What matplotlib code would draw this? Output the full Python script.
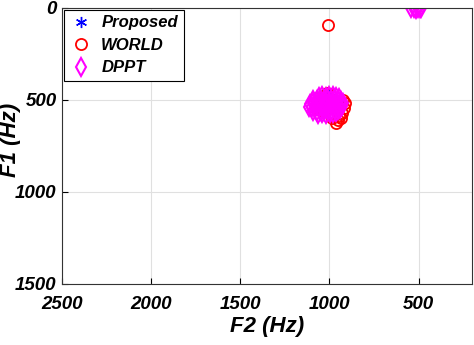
import matplotlib.pyplot as plt

# formant estimates (F2, F1) in Hz
prop_f2 = [1040, 1020, 1005, 990, 1060, 1080, 1000, 970, 950, 1030, 1010, 985, 960, 940, 1050]
prop_f1 = [472, 476, 470, 480, 490, 505, 500, 495, 510, 520, 530, 540, 525, 515, 550]

world_f2 = [1006, 1012, 998, 962, 975, 948, 932, 918, 915, 924, 985, 1030, 1052, 952, 936, 1075]
world_f1 = [92, 462, 470, 625, 590, 585, 572, 545, 518, 498, 600, 562, 552, 608, 598, 540]

dppt_f2 = [1060, 1042, 1022, 1003, 982, 962, 948,
           1090, 1072, 1051, 1030, 1012, 991, 972, 951, 936,
           1110, 1094, 1076, 1056, 1034, 1016, 996, 974, 956, 937, 926,
           1116, 1100, 1081, 1061, 1040, 1021, 1001, 979, 961, 942, 931,
           1091, 1071, 1049, 1031, 1009, 990, 968, 952, 941,
           1062, 1041, 1019, 999, 981, 962,
           540, 526, 514, 505, 494, 486]
dppt_f1 = [482, 478, 485, 480, 476, 484, 490,
           500, 503, 498, 502, 497, 501, 499, 503, 505,
           520, 518, 522, 519, 521, 517, 523, 520, 518, 522, 515,
           540, 538, 542, 539, 541, 537, 543, 540, 538, 536, 533,
           560, 558, 562, 559, 561, 557, 556, 552, 550,
           575, 573, 578, 572, 570, 568,
           2, 0, 4, 1, 3, 0]

plt.rcParams['font.family'] = ['Liberation Sans', 'DejaVu Sans']
plt.rcParams['font.weight'] = 'bold'
plt.rcParams['font.style'] = 'italic'
plt.rcParams['axes.labelweight'] = 'bold'

fig = plt.figure(figsize=(4.74, 3.45), dpi=100)
ax = fig.add_axes([0.131, 0.177, 0.865, 0.80])

ax.plot(prop_f2, prop_f1, linestyle='none', marker=(6, 2, 0), color='b',
        markersize=8, label='Proposed')
ax.plot(world_f2, world_f1, linestyle='none', marker='o', color='r',
        markerfacecolor='none', markersize=8, markeredgewidth=1.3, label='WORLD')
ax.plot(dppt_f2, dppt_f1, linestyle='none', marker='d', color='#ff00ff',
        markerfacecolor='none', markersize=9, markeredgewidth=1.5, label='DPPT')

ax.set_xlim(2500, 200)
ax.set_ylim(1500, 0)
ax.set_xticks([2500, 2000, 1500, 1000, 500])
ax.set_yticks([0, 500, 1000, 1500])
ax.tick_params(direction='in', labelsize=13.5, length=4)
ax.tick_params(axis='x', pad=9)
ax.tick_params(axis='y', pad=4)
ax.grid(True, color='#e0e0e0', linewidth=0.8)
ax.set_axisbelow(True)
for s in ax.spines.values():
    s.set_color('#333333')

ax.set_xlabel('F2 (Hz)', fontsize=16, labelpad=2)
ax.set_ylabel('F1 (Hz)', fontsize=16, va='center')
ax.yaxis.set_label_coords(-0.125, 0.52)

leg = ax.legend(loc='upper left', fontsize=12, fancybox=False, framealpha=1,
                borderaxespad=0.1, handlelength=1.4, handletextpad=0.5,
                borderpad=0.35, labelspacing=0.45)
leg.get_frame().set_edgecolor('black')
leg.get_frame().set_linewidth(0.8)

fig.savefig('out.png', dpi=100)
